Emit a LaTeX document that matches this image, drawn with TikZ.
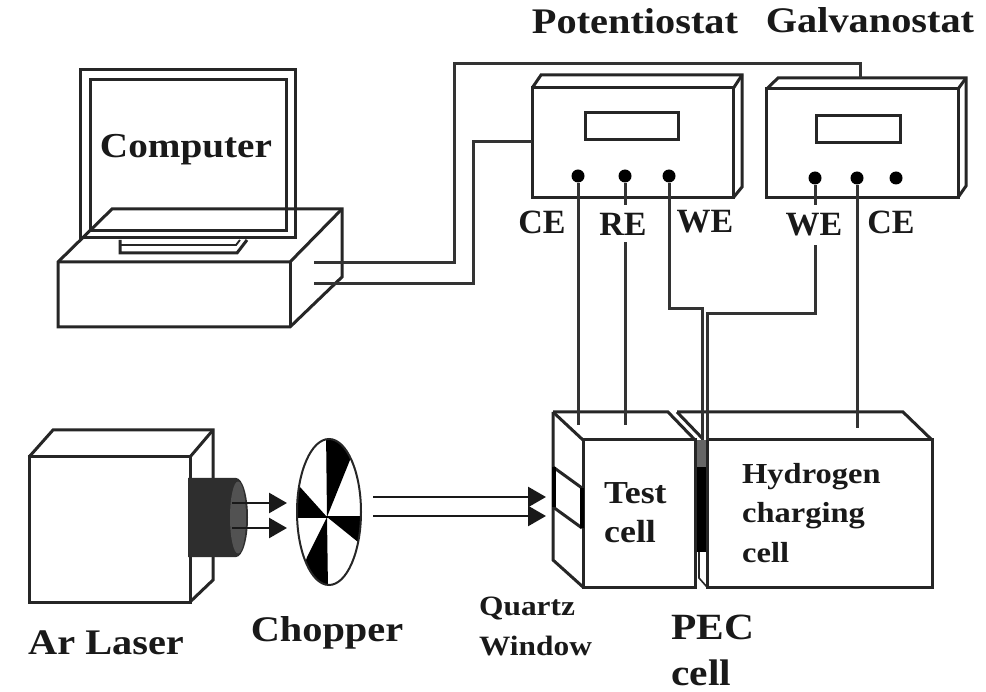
\documentclass[tikz,border=0pt]{standalone}
\usepackage{fontspec}
\setmainfont{Liberation Serif}
\newfontfamily\widebold{Liberation Serif Bold}[FakeStretch=1.12]
\usetikzlibrary{arrows.meta,shapes.geometric}
\tikzset{
  ln/.style={draw=black!85,line width=3pt},
  wire/.style={draw=black!80,line width=3pt},
  dot/.style={circle,fill=black,inner sep=0pt,minimum size=13pt},
  beam/.style={draw=black!90,line width=2.6pt,-{Triangle[length=18pt,width=20pt]}},
  lbl/.style={font=\widebold\fontsize{36}{38}\selectfont,inner sep=0pt,text=black!90},
  lblb/.style={font=\bfseries\fontsize{34}{36}\selectfont,inner sep=0pt,text=black!90,fill=white,minimum height=37pt},
  lbls/.style={font=\widebold\fontsize{29}{39.5}\selectfont,inner sep=0pt,align=left,text=black!90},
  lblq/.style={font=\widebold\fontsize{28}{40}\selectfont,inner sep=0pt,align=left,text=black!90},
}
\begin{document}
\begin{tikzpicture}[x=1pt,y=-1pt]
\useasboundingbox[fill=white] (0,0) rectangle (986,692);
% computer
\draw[ln] (112,209) -- (342,209) -- (342,277) -- (290,327) -- (58,327) -- (58,262) -- cycle;
\draw[ln] (58,262) -- (290,262) -- (342,209);
\draw[ln] (290,262) -- (290,327);
\draw[ln] (120,240) -- (120,253) -- (237,253) -- (247,240);
\draw[ln,line width=1.8pt] (120,245) -- (236,245) -- (240,240);
\draw[ln] (80,70) rectangle (295,238);
\draw[ln] (90,80) rectangle (286,231);
\node[lbl,font=\widebold\fontsize{35}{40}\selectfont] (computer) at (186,150) {Computer};
\coordinate (pcA) at (314,263);
\coordinate (pcB) at (314,284);
% potentiostat
\node[draw=none,minimum width=201pt,minimum height=109pt,inner sep=0pt] (pot) at (633,142.5) {};
\draw[ln] (pot.north west) rectangle (pot.south east);
\draw[ln] (pot.north west) -- (541,75) -- (742,75) -- (742,187) -- (pot.south east);
\draw[ln] (pot.north east) -- (742,75);
\draw[ln] (585,113) rectangle (678,140);
\node[dot] (pce) at (578,176) {};
\node[dot] (pre) at (625,176) {};
\node[dot] (pwe) at (669,176) {};
% galvanostat
\node[draw=none,minimum width=191pt,minimum height=108pt,inner sep=0pt] (gal) at (862.5,143) {};
\draw[ln] (gal.north west) rectangle (gal.south east);
\draw[ln] (gal.north west) -- (778,78) -- (966,78) -- (966,186) -- (gal.south east);
\draw[ln] (gal.north east) -- (966,78);
\draw[ln] (816,116) rectangle (900,143);
\node[dot] (gwe) at (815,178) {};
\node[dot] (gce) at (857,178) {};
\node[dot] (gx) at (896,178) {};
% cells
\draw[ln] (553,412) -- (668,412) -- (695,440);
\draw[ln] (553,412) -- (553,560) -- (583,587);
\draw[ln] (553,412) -- (583,440);
\draw[ln] (583,440) rectangle (695,587);
\draw[ln] (677,412) -- (903,412) -- (932,440);
\draw[ln] (677,412) -- (702,438);
\draw[ln] (707,440) rectangle (932,587);
\draw[ln] (553,467) -- (582,488);
\draw[ln] (553,507) -- (582,528);
\draw[draw=black,line width=4.5pt] (554,467) -- (554,507);
\draw[draw=black,line width=4.5pt] (582,488) -- (582,528);
\draw[black!85,line width=1.6pt] (699,552) -- (699,578) -- (707,587);
\fill[black] (697,467) rectangle (706,552);
\fill[black!60] (697,440) rectangle (706,467);
\coordinate (tcCE) at (578,425);
\coordinate (tcRE) at (625,425);
\coordinate (tcWa) at (702,440);
\coordinate (tcWb) at (707,440);
\coordinate (hcCE) at (857,428);
% wires
\draw[wire] (pcA) -- (454,263) -- (454,64) -- (860,64) -- (860,78);
\draw[wire] (pcB) -- (473,284) -- (473,142) -- (pot.west |- 0,142);
\draw[wire] (pce) -- (tcCE);
\draw[wire] (pre) -- (tcRE);
\draw[wire] (pwe) -- (669,309) -- (702,309) -- (tcWa);
\draw[wire] (gwe) -- (815,314) -- (707,314) -- (tcWb);
\draw[wire] (gce) -- (hcCE);
% labels
\node[lbl] (tpot) at (635,21) {Potentiostat};
\node[lbl] (tgal) at (870,20) {Galvanostat};
\node[lblb,fill=none] (lce) at (542,222) {CE};
\node[lblb] (lre) at (623,224) {RE};
\node[lblb,fill=none] (lwe) at (705,222) {WE};
\node[lblb,minimum height=40pt] (lwg) at (814,225) {WE};
\node[lblb,fill=none] (lcg) at (891,222) {CE};
\node[lbls,font=\widebold\fontsize{32}{39.5}\selectfont,anchor=north west] (ttest) at (604,482) {Test\\cell};
\node[lbls,anchor=north west] (thyd) at (742,463) {Hydrogen\\charging\\cell};
% laser
\draw[ln] (29,457) rectangle (190,602);
\draw[ln] (29,457) -- (53,430) -- (213,430) -- (213,580) -- (190,602);
\draw[ln] (190,457) -- (213,430);
\fill[black!82] (188,478) -- (236,478) arc[start angle=90,end angle=-90,x radius=12pt,y radius=39.5pt] -- (188,557) -- cycle;
\fill[black!68] (238,517.5) ellipse[x radius=8pt,y radius=36pt];
\coordinate (lsA) at (232,503);
\coordinate (lsB) at (232,528);
% chopper
\node[draw=none,minimum width=64pt,minimum height=146pt,inner sep=0pt,ellipse] (chop) at (329,512) {};
\begin{scope}
\clip (329,512) ellipse[x radius=32pt,y radius=73pt];
\fill[black] (327,517) -- (326,430) -- (360,430) -- (352,455) -- cycle;
\fill[black] (327,517) -- (300,487) -- (290,487) -- (290,517) -- cycle;
\fill[black] (327,517) -- (365,517) -- (365,545) -- (358,542) -- cycle;
\fill[black] (327,517) -- (328,590) -- (300,580) -- (307,557) -- cycle;
\end{scope}
\draw[black,line width=2pt] (297,517) -- (361,517);
\draw[black!85,line width=2pt] (329,512) ellipse[x radius=32pt,y radius=73pt];
\draw[beam] (lsA) -- (287,503);
\draw[beam] (lsB) -- (287,528);
\coordinate (bsA) at (373,497);
\coordinate (bsB) at (373,516);
\coordinate (winA) at (546,497);
\coordinate (winB) at (546,516);
\draw[beam] (bsA) -- (winA);
\draw[beam] (bsB) -- (winB);
% bottom labels
\node[lbl] (tar) at (106,643) {Ar Laser};
\node[lbl] (tch) at (327,633) {Chopper};
\node[lblq,anchor=north west] (tq) at (479,597) {Quartz\\Window};
\node[lbl,align=left,anchor=north west,font=\widebold\fontsize{37}{46}\selectfont] (tpec) at (671,615) {PEC\\cell};
\end{tikzpicture}
\end{document}
